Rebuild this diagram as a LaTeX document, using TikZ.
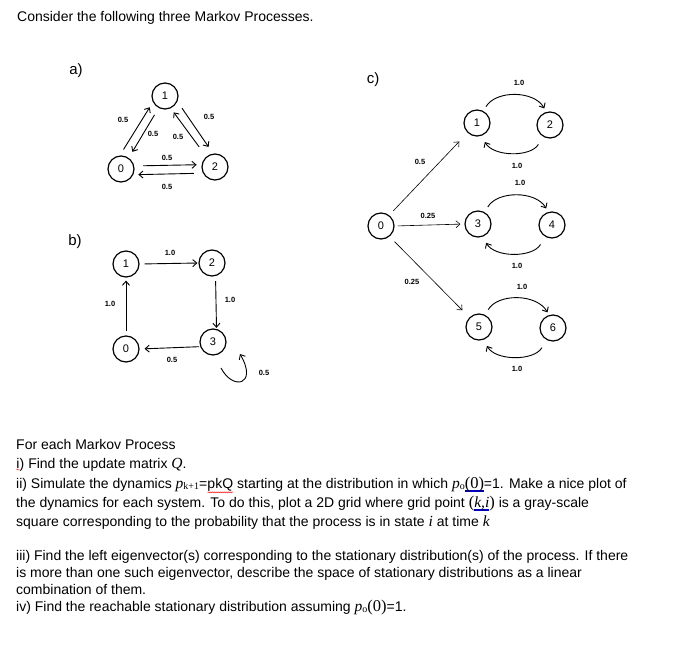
\documentclass[tikz,border=0pt]{standalone}
\usepackage{fontspec}
\setmainfont{Liberation Sans}
\newfontfamily\srf{Liberation Serif}
\usetikzlibrary{arrows.meta,decorations.pathmorphing,calc}
\newcommand\mv[1]{{\srf\itshape\fontsize{15.5}{16}\selectfont #1}}
\newcommand\mup[1]{{\srf\fontsize{16.5}{16}\selectfont #1}}
\newcommand\subs[1]{\raisebox{-1pt}{\srf\fontsize{10}{10}\selectfont #1}}
\newcommand\dblu[1]{\leavevmode\setbox0\hbox{#1}\rlap{\color{blue!70!black}\rule[-2pt]{\wd0}{0.5pt}}\rlap{\color{blue!70!black}\rule[-3.6pt]{\wd0}{0.5pt}}\box0}
\newcommand\wavyu[1]{\tikz[baseline=(w.base),x=1pt,y=1pt]{\node[inner sep=0pt,outer sep=0pt](w){#1};\draw[red,line width=0.4pt,decorate,decoration={snake,amplitude=0.6pt,segment length=2pt}] ([yshift=-1.5pt]w.south west)--([yshift=-1.5pt]w.south east);}}
\begin{document}
\begin{tikzpicture}[x=1pt,y=-1pt,
 st/.style={circle,draw,line width=1.2pt,minimum size=26pt,inner sep=0pt,font=\fontsize{11}{11}\selectfont},
 arr/.style={-{Straight Barb[length=4pt,width=7pt]},line width=0.9pt},
 thin arr/.style={-{Straight Barb[length=4pt,width=7pt]},line width=0.6pt},
 lab/.style={font=\fontsize{7.5}{7.5}\selectfont\bfseries,inner sep=0pt},
 sec/.style={font=\fontsize{15}{15}\selectfont,inner sep=0pt},
 txt/.style={anchor=base west,inner sep=0pt,font=\fontsize{14}{16}\selectfont}]
\useasboundingbox[fill=white] (0,0) rectangle (673,651);

% ---------- a)
\node[sec] (la) at (76,71) {a)};
\node[st] (a0) at (121,169) {0};
\node[st] (a1) at (165,96) {1};
\node[st] (a2) at (215,167) {2};
\draw[arr, shorten <=7pt, shorten >=6pt] (a0.95) -- (a1.207);
\draw[arr, shorten <=8pt, shorten >=7pt] (a1.242) -- (a0.55);
\draw[arr, shorten <=8pt, shorten >=8pt] (a1.336) -- (a2.98);
\draw[arr, shorten <=12pt, shorten >=5pt] (a2.130) -- (a1.295);
\draw[arr, shorten <=9pt, shorten >=5pt] (a0.13) -- (a2.170);
\draw[arr, shorten <=9pt, shorten >=5pt] (a2.207) -- (a0.335);
\node[lab] (la1) at (123,120) {0.5};
\node[lab] (la2) at (153,134) {0.5};
\node[lab] (la3) at (178,137) {0.5};
\node[lab] (la4) at (209,117) {0.5};
\node[lab] (la5) at (167,158) {0.5};
\node[lab] (la6) at (167,187) {0.5};

% ---------- b)
\node[sec] (lb) at (75,242) {b)};
\node[st] (b1) at (126,264) {1};
\node[st] (b2) at (212,263) {2};
\node[st] (b3) at (213,342) {3};
\node[st] (b0) at (126,349) {0};
\draw[arr, shorten <=5pt, shorten >=1pt] (b1.east) -- (b2.west);
\draw[arr, shorten <=5pt, shorten >=1pt] (b2.285) -- (b3.75);
\draw[arr, shorten <=1pt, shorten >=5pt] (b3.200) -- (b0.east);
\draw[arr, shorten <=4pt, shorten >=3pt] (b0.north) -- (b1.south);
\draw[arr] ($(b3)+(8,26)$) .. controls ($(b3)+(20,49)$) and ($(b3)+(45,43)$) .. ($(b3)+(27,12)$);
\node[lab] (lb1) at (170,253) {1.0};
\node[lab] (lb2) at (230,300) {1.0};
\node[lab] (lb3) at (172,360) {0.5};
\node[lab] (lb4) at (110,304) {1.0};
\node[lab] (lb5) at (264,373) {0.5};

% ---------- c)
\node[sec] (lc) at (373,80) {c)};
\node[st] (c0) at (381,226) {0};
\node[st] (c1) at (477,123) {1};
\node[st] (c2) at (550,125) {2};
\node[st] (c3) at (478,224) {3};
\node[st] (c4) at (552,225) {4};
\node[st] (c5) at (479,327) {5};
\node[st] (c6) at (553,328) {6};
\draw[thin arr, shorten <=6pt, shorten >=12pt] (c0.53) -- (c1.226);
\draw[thin arr, shorten <=3pt, shorten >=4pt] (c0.east) -- (c3.west);
\draw[thin arr, shorten <=7pt, shorten >=10pt] (c0.309) -- (c5.135);
\draw[arr, shorten <=5pt, shorten >=4pt] (c1.62) to[bend left=60] (c2.106);
\draw[arr, shorten <=9pt, shorten >=7pt] (c2.239) to[bend left=60] (c1.289);
\draw[arr, shorten <=6pt, shorten >=4pt] (c3.60) to[bend left=60] (c4.106);
\draw[arr, shorten <=9pt, shorten >=7pt] (c4.239) to[bend left=60] (c3.290);
\draw[arr, shorten <=6pt, shorten >=3pt] (c5.63) to[bend left=60] (c6.107);
\draw[arr, shorten <=9pt, shorten >=7pt] (c6.241) to[bend left=60] (c5.289);
\node[lab] (lc1) at (420,162) {0.5};
\node[lab] (lc2) at (428,216) {0.25};
\node[lab] (lc3) at (412,282) {0.25};
\node[lab] (lc4) at (519,83) {1.0};
\node[lab] (lc5) at (517,166) {1.0};
\node[lab] (lc6) at (520,183) {1.0};
\node[lab] (lc7) at (517,266) {1.0};
\node[lab] (lc8) at (522,287) {1.0};
\node[lab] (lc9) at (517,369) {1.0};

% ---------- text
\node[txt] (t0) at (17,21) {Consider the following three Markov Processes.};
\node[txt] (t1) at (16,449) {For each Markov Process};
\node[txt] (t2) at (16,468) {\wavyu{i}) Find the update matrix \mv{Q}.};
\node[txt] (t3) at (16,488) {ii) Simulate the dynamics \mv{p}\subs{k+1}=\wavyu{pkQ} starting at the distribution in which \mv{p}\subs{o}\dblu{\mup{(0)}}=1. Make a nice plot of};
\node[txt] (t4) at (16,507) {the dynamics for each system. To do this, plot a 2D grid where grid point \mup{(}\dblu{\mv{k,i}}\mup{)} is a gray-scale};
\node[txt] (t5) at (16,526) {square corresponding to the probability that the process is in state \mv{i} at time \mv{k}};
\node[txt] (t6) at (16,560) {iii) Find the left eigenvector(s) corresponding to the stationary distribution(s) of the process. If there};
\node[txt] (t7) at (16,577) {is more than one such eigenvector, describe the space of stationary distributions as a linear};
\node[txt] (t8) at (16,594) {combination of them.};
\node[txt] (t9) at (16,611) {iv) Find the reachable stationary distribution assuming \mv{p}\subs{o}\mup{(0)}=1.};
\end{tikzpicture}
\end{document}
